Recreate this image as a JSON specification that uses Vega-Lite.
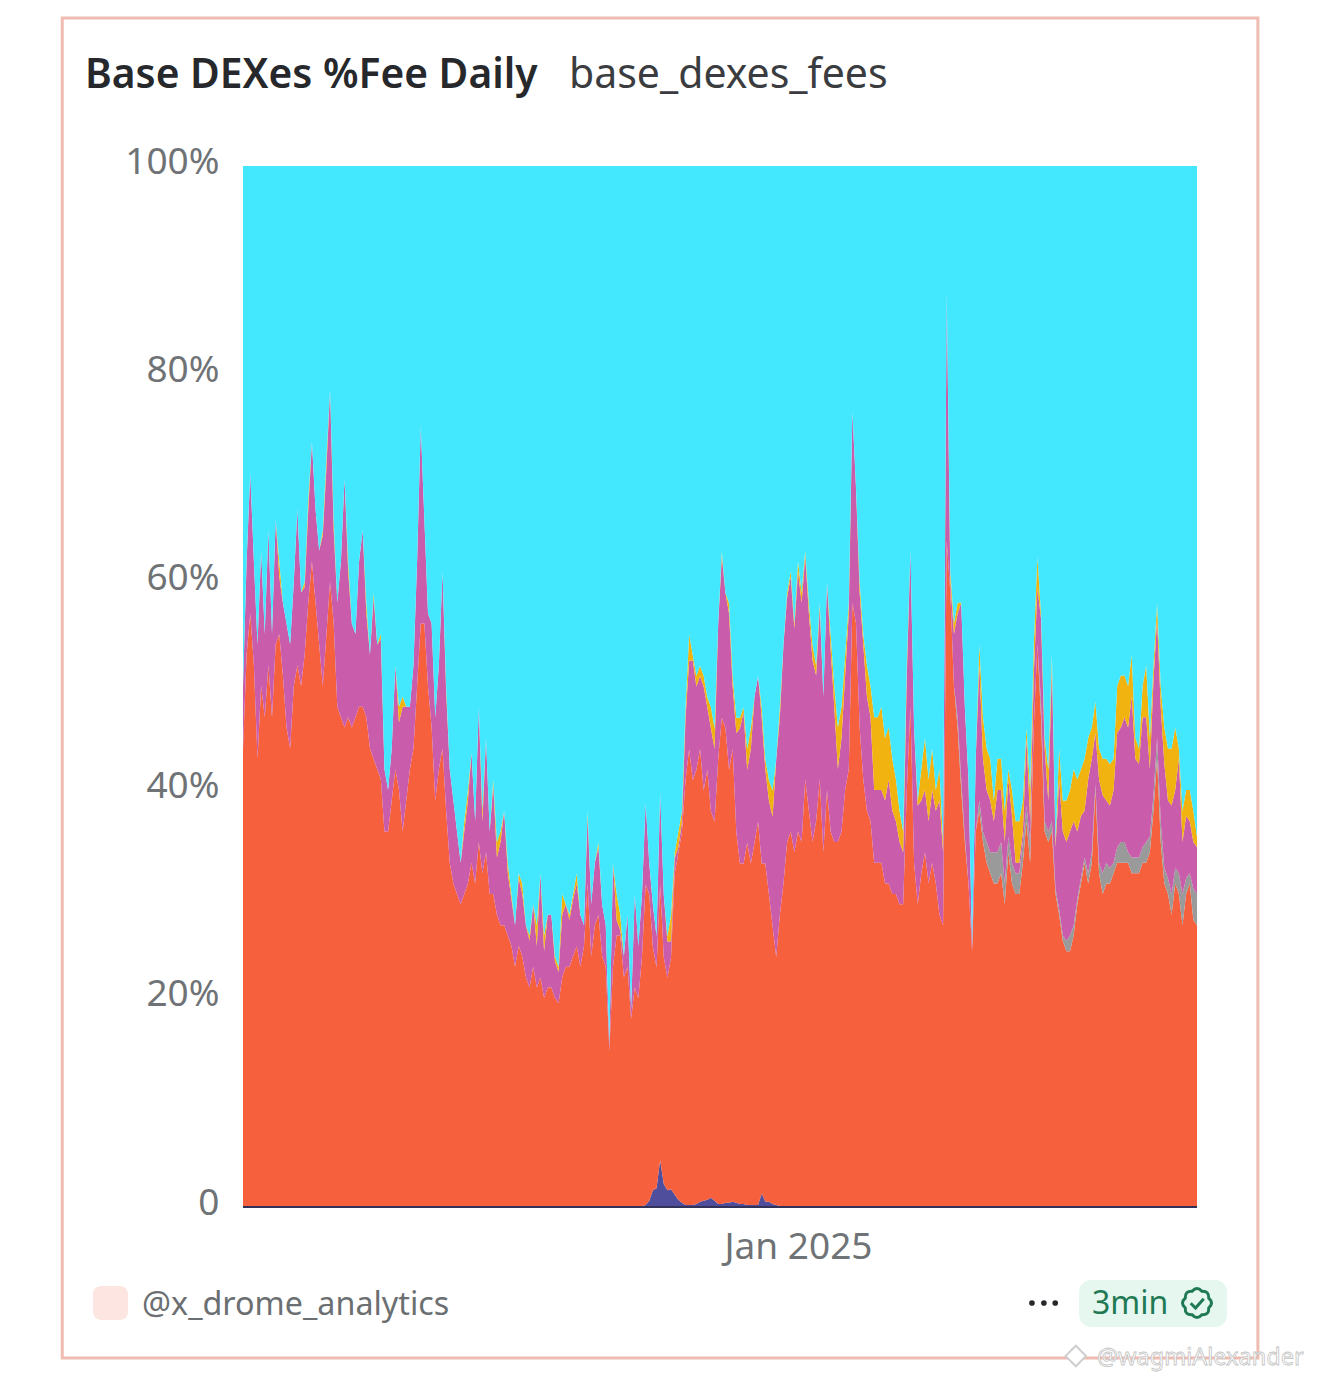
{
"$schema":"https://vega.github.io/schema/vega-lite/v6.json",
"width":954,"height":1041,"autosize":"none",
"padding":{"left":243,"top":166,"right":123,"bottom":177},
"background":"#ffffff",
"config":{"view":{"stroke":null},"font":"Noto Sans"},
"layer":[
{"data":{"values":[{"x":"2024-06-12T04:00","x2":"2025-05-07T19:00","y":1.1422,"y2":-0.1451}]},
"mark":{"type":"rect","filled":false,"stroke":"#efbcb1","strokeWidth":3},
"encoding":{"x":{"field":"x","type":"temporal","scale":{"domain":["2024-08-01","2025-04-21"]},
"axis":{"values":[{"year":2025,"month":"jan","date":1}],"format":"%b %Y","title":null,"grid":false,"ticks":false,"domain":false,"labelFontSize":37,"labelColor":"#6f7375","labelPadding":22,"labelFont":"Noto Sans"}},
"x2":{"field":"x2"},
"y":{"field":"y","type":"quantitative","scale":{"domain":[0,1],"nice":false},
"axis":{"values":[0,0.2,0.4,0.6,0.8,1],"labelExpr":"datum.value==0?'0':format(datum.value,'.0%')","title":null,"grid":false,"ticks":false,"domain":false,"labelFontSize":37,"labelColor":"#6f7375","labelPadding":24,"labelOffset":-4,"labelFont":"Noto Sans"}},
"y2":{"field":"y2"}}},
{"data":{"name":"fees","values":[
{"d":"2024-08-01","s1":0.1,"s2":44,"s3":0,"s4":6,"s5":0,"s6":50},
{"d":"2024-08-02","s1":0.1,"s2":53,"s3":0,"s4":9,"s5":0,"s6":38},
{"d":"2024-08-03","s1":0.1,"s2":57,"s3":0,"s4":13.5,"s5":0,"s6":29.5},
{"d":"2024-08-04","s1":0.1,"s2":52,"s3":0,"s4":10,"s5":0,"s6":38},
{"d":"2024-08-05","s1":0.1,"s2":43,"s3":0,"s4":11,"s5":0,"s6":46},
{"d":"2024-08-06","s1":0.1,"s2":50,"s3":0,"s4":13,"s5":0,"s6":37},
{"d":"2024-08-07","s1":0.1,"s2":47,"s3":0,"s4":8,"s5":0,"s6":45},
{"d":"2024-08-08","s1":0.1,"s2":52,"s3":0,"s4":13,"s5":0,"s6":35},
{"d":"2024-08-09","s1":0.1,"s2":47,"s3":0,"s4":8,"s5":0,"s6":45},
{"d":"2024-08-10","s1":0.1,"s2":54,"s3":0,"s4":12,"s5":0,"s6":34},
{"d":"2024-08-11","s1":0.1,"s2":55,"s3":0,"s4":5.5,"s5":1.5,"s6":38},
{"d":"2024-08-12","s1":0.1,"s2":51,"s3":0,"s4":7,"s5":0,"s6":42},
{"d":"2024-08-13","s1":0.1,"s2":46,"s3":0,"s4":10,"s5":0,"s6":44},
{"d":"2024-08-14","s1":0.1,"s2":44,"s3":0,"s4":10,"s5":0,"s6":46},
{"d":"2024-08-15","s1":0.1,"s2":50,"s3":0,"s4":10,"s5":0,"s6":40},
{"d":"2024-08-16","s1":0.1,"s2":52,"s3":0,"s4":15,"s5":0,"s6":33},
{"d":"2024-08-17","s1":0.1,"s2":50,"s3":0,"s4":9,"s5":0,"s6":41},
{"d":"2024-08-18","s1":0.1,"s2":53,"s3":0,"s4":6.5,"s5":0.5,"s6":40},
{"d":"2024-08-19","s1":0.1,"s2":58,"s3":0,"s4":9,"s5":1,"s6":32},
{"d":"2024-08-20","s1":0.1,"s2":62,"s3":0,"s4":11.5,"s5":0,"s6":26.5},
{"d":"2024-08-21","s1":0.1,"s2":58,"s3":0,"s4":9,"s5":0,"s6":33},
{"d":"2024-08-22","s1":0.1,"s2":54,"s3":0,"s4":9,"s5":0,"s6":37},
{"d":"2024-08-23","s1":0.1,"s2":50,"s3":0,"s4":14.5,"s5":0.5,"s6":35},
{"d":"2024-08-24","s1":0.1,"s2":55,"s3":0,"s4":16,"s5":1,"s6":28},
{"d":"2024-08-25","s1":0.1,"s2":60,"s3":0,"s4":18.5,"s5":0,"s6":21.5},
{"d":"2024-08-26","s1":0.1,"s2":56,"s3":0,"s4":9,"s5":1,"s6":34},
{"d":"2024-08-27","s1":0.1,"s2":48,"s3":0,"s4":10,"s5":0,"s6":42},
{"d":"2024-08-28","s1":0.1,"s2":47,"s3":0,"s4":15,"s5":0,"s6":38},
{"d":"2024-08-29","s1":0.1,"s2":46,"s3":0,"s4":24,"s5":0,"s6":30},
{"d":"2024-08-30","s1":0.1,"s2":47,"s3":0,"s4":14,"s5":1,"s6":38},
{"d":"2024-08-31","s1":0.1,"s2":46,"s3":0,"s4":10,"s5":0,"s6":44},
{"d":"2024-09-01","s1":0.1,"s2":47,"s3":0,"s4":8,"s5":0,"s6":45},
{"d":"2024-09-02","s1":0.1,"s2":48,"s3":0,"s4":14,"s5":0,"s6":38},
{"d":"2024-09-03","s1":0.1,"s2":48,"s3":0,"s4":17,"s5":0,"s6":35},
{"d":"2024-09-04","s1":0.1,"s2":47,"s3":0,"s4":10,"s5":1,"s6":42},
{"d":"2024-09-05","s1":0.1,"s2":44,"s3":0,"s4":9,"s5":0,"s6":47},
{"d":"2024-09-06","s1":0.1,"s2":43,"s3":0,"s4":15.5,"s5":0.5,"s6":41},
{"d":"2024-09-07","s1":0.1,"s2":42,"s3":0,"s4":12,"s5":0,"s6":46},
{"d":"2024-09-08","s1":0.1,"s2":41,"s3":0,"s4":13.5,"s5":0.5,"s6":45},
{"d":"2024-09-09","s1":0.1,"s2":36,"s3":0,"s4":6,"s5":0,"s6":58},
{"d":"2024-09-10","s1":0.1,"s2":36,"s3":0,"s4":4,"s5":0,"s6":60},
{"d":"2024-09-11","s1":0.1,"s2":39,"s3":0,"s4":5,"s5":0,"s6":56},
{"d":"2024-09-12","s1":0.1,"s2":42,"s3":0,"s4":10,"s5":0,"s6":48},
{"d":"2024-09-13","s1":0.1,"s2":40,"s3":0,"s4":6.5,"s5":1.5,"s6":52},
{"d":"2024-09-14","s1":0.1,"s2":36,"s3":0,"s4":12,"s5":1,"s6":51},
{"d":"2024-09-15","s1":0.1,"s2":39,"s3":0,"s4":9,"s5":0,"s6":52},
{"d":"2024-09-16","s1":0.1,"s2":42,"s3":0,"s4":6,"s5":0,"s6":52},
{"d":"2024-09-17","s1":0.1,"s2":44,"s3":0,"s4":8,"s5":0,"s6":48},
{"d":"2024-09-18","s1":0.1,"s2":50,"s3":0,"s4":12,"s5":0,"s6":38},
{"d":"2024-09-19","s1":0.1,"s2":56,"s3":0,"s4":19,"s5":0,"s6":25},
{"d":"2024-09-20","s1":0.1,"s2":56,"s3":0,"s4":10,"s5":0,"s6":34},
{"d":"2024-09-21","s1":0.1,"s2":50,"s3":0,"s4":7,"s5":0,"s6":43},
{"d":"2024-09-22","s1":0.1,"s2":46,"s3":0,"s4":10,"s5":0,"s6":44},
{"d":"2024-09-23","s1":0.1,"s2":39,"s3":0,"s4":8,"s5":0,"s6":53},
{"d":"2024-09-24","s1":0.1,"s2":42,"s3":0,"s4":10,"s5":0,"s6":48},
{"d":"2024-09-25","s1":0.1,"s2":44,"s3":0,"s4":17,"s5":0,"s6":39},
{"d":"2024-09-26","s1":0.1,"s2":38,"s3":0,"s4":11.5,"s5":0.5,"s6":50},
{"d":"2024-09-27","s1":0.1,"s2":33,"s3":0,"s4":9,"s5":0,"s6":58},
{"d":"2024-09-28","s1":0.1,"s2":31,"s3":0,"s4":8,"s5":0,"s6":61},
{"d":"2024-09-29","s1":0.1,"s2":30,"s3":0,"s4":6,"s5":0,"s6":64},
{"d":"2024-09-30","s1":0.1,"s2":29,"s3":0,"s4":4,"s5":0,"s6":67},
{"d":"2024-10-01","s1":0.1,"s2":30,"s3":0,"s4":6,"s5":1,"s6":63},
{"d":"2024-10-02","s1":0.1,"s2":31,"s3":0,"s4":8,"s5":1,"s6":60},
{"d":"2024-10-03","s1":0.1,"s2":33,"s3":0,"s4":10.6,"s5":0,"s6":56.4},
{"d":"2024-10-04","s1":0.1,"s2":31,"s3":0,"s4":6,"s5":0,"s6":63},
{"d":"2024-10-05","s1":0.1,"s2":35,"s3":0,"s4":13,"s5":0,"s6":52},
{"d":"2024-10-06","s1":0.1,"s2":32,"s3":0,"s4":5,"s5":1,"s6":62},
{"d":"2024-10-07","s1":0.1,"s2":34,"s3":0,"s4":11,"s5":0,"s6":55},
{"d":"2024-10-08","s1":0.1,"s2":30,"s3":0,"s4":6,"s5":0,"s6":64},
{"d":"2024-10-09","s1":0.1,"s2":30,"s3":0,"s4":10.5,"s5":0.5,"s6":59},
{"d":"2024-10-10","s1":0.1,"s2":28,"s3":0,"s4":5.5,"s5":1.5,"s6":65},
{"d":"2024-10-11","s1":0.1,"s2":27,"s3":0,"s4":8,"s5":1,"s6":64},
{"d":"2024-10-12","s1":0.1,"s2":27,"s3":0,"s4":11,"s5":0,"s6":62},
{"d":"2024-10-13","s1":0.1,"s2":26,"s3":0,"s4":6,"s5":1,"s6":67},
{"d":"2024-10-14","s1":0.1,"s2":25,"s3":0,"s4":4.5,"s5":0.5,"s6":70},
{"d":"2024-10-15","s1":0.1,"s2":23,"s3":0,"s4":4,"s5":0,"s6":73},
{"d":"2024-10-16","s1":0.1,"s2":25,"s3":0,"s4":6.5,"s5":0.5,"s6":68},
{"d":"2024-10-17","s1":0.1,"s2":24,"s3":0,"s4":6,"s5":1,"s6":69},
{"d":"2024-10-18","s1":0.1,"s2":22,"s3":0,"s4":5,"s5":0,"s6":73},
{"d":"2024-10-19","s1":0.1,"s2":21,"s3":0,"s4":4.5,"s5":0.5,"s6":74},
{"d":"2024-10-20","s1":0.1,"s2":23,"s3":0,"s4":6,"s5":0,"s6":71},
{"d":"2024-10-21","s1":0.1,"s2":21,"s3":0,"s4":4,"s5":2,"s6":73},
{"d":"2024-10-22","s1":0.1,"s2":22,"s3":0,"s4":10,"s5":0,"s6":68},
{"d":"2024-10-23","s1":0.1,"s2":20,"s3":0,"s4":4.5,"s5":1.5,"s6":74},
{"d":"2024-10-24","s1":0.1,"s2":21,"s3":0,"s4":7,"s5":0,"s6":72},
{"d":"2024-10-25","s1":0.1,"s2":21,"s3":0,"s4":7,"s5":0,"s6":72},
{"d":"2024-10-26","s1":0.1,"s2":20,"s3":0,"s4":3.5,"s5":0.5,"s6":76},
{"d":"2024-10-27","s1":0.1,"s2":19.5,"s3":0,"s4":3,"s5":0.5,"s6":77},
{"d":"2024-10-28","s1":0.1,"s2":22,"s3":0,"s4":6,"s5":2,"s6":70},
{"d":"2024-10-29","s1":0.1,"s2":23,"s3":0,"s4":6,"s5":0,"s6":71},
{"d":"2024-10-30","s1":0.1,"s2":23,"s3":0,"s4":4.5,"s5":0.5,"s6":72},
{"d":"2024-10-31","s1":0.1,"s2":24,"s3":0,"s4":5.5,"s5":0.5,"s6":70},
{"d":"2024-11-01","s1":0.1,"s2":25,"s3":0,"s4":6,"s5":1,"s6":68},
{"d":"2024-11-02","s1":0.1,"s2":23,"s3":0,"s4":5,"s5":0,"s6":72},
{"d":"2024-11-03","s1":0.1,"s2":25,"s3":0,"s4":2,"s5":0,"s6":73},
{"d":"2024-11-04","s1":0.1,"s2":31,"s3":0,"s4":6.5,"s5":0.5,"s6":62},
{"d":"2024-11-05","s1":0.1,"s2":24,"s3":0,"s4":5,"s5":0,"s6":71},
{"d":"2024-11-06","s1":0.1,"s2":27,"s3":0,"s4":6,"s5":0,"s6":67},
{"d":"2024-11-07","s1":0.1,"s2":28,"s3":0,"s4":6.5,"s5":0.5,"s6":65},
{"d":"2024-11-08","s1":0.1,"s2":24,"s3":0,"s4":5,"s5":0,"s6":71},
{"d":"2024-11-09","s1":0.1,"s2":23,"s3":0,"s4":4,"s5":0,"s6":73},
{"d":"2024-11-10","s1":0.1,"s2":15,"s3":0,"s4":0.5,"s5":0,"s6":84.5},
{"d":"2024-11-11","s1":0.1,"s2":23,"s3":0,"s4":10,"s5":0,"s6":67},
{"d":"2024-11-12","s1":0.1,"s2":26,"s3":0,"s4":1.5,"s5":2.5,"s6":70},
{"d":"2024-11-13","s1":0.1,"s2":26,"s3":0,"s4":0.5,"s5":1.5,"s6":72},
{"d":"2024-11-14","s1":0.1,"s2":22,"s3":0,"s4":2,"s5":0,"s6":76},
{"d":"2024-11-15","s1":0.1,"s2":23,"s3":0,"s4":5,"s5":0,"s6":72},
{"d":"2024-11-16","s1":0.1,"s2":18,"s3":0,"s4":1,"s5":0,"s6":81},
{"d":"2024-11-17","s1":0.1,"s2":21,"s3":0,"s4":9,"s5":0,"s6":70},
{"d":"2024-11-18","s1":0.1,"s2":20,"s3":0,"s4":5,"s5":0,"s6":75},
{"d":"2024-11-19","s1":0.1,"s2":24,"s3":0,"s4":6,"s5":0,"s6":70},
{"d":"2024-11-20","s1":0.2,"s2":30.8,"s3":0,"s4":7.8,"s5":0,"s6":61.2},
{"d":"2024-11-21","s1":0.6,"s2":29.4,"s3":0,"s4":3,"s5":0,"s6":67},
{"d":"2024-11-22","s1":1.6,"s2":23.4,"s3":0,"s4":4,"s5":0,"s6":71},
{"d":"2024-11-23","s1":1.8,"s2":21.2,"s3":0,"s4":3,"s5":0,"s6":74},
{"d":"2024-11-24","s1":4.5,"s2":26.5,"s3":0,"s4":8.8,"s5":0,"s6":60.2},
{"d":"2024-11-25","s1":2.2,"s2":21.8,"s3":0,"s4":6,"s5":0,"s6":70},
{"d":"2024-11-26","s1":1.6,"s2":20.4,"s3":0,"s4":3.5,"s5":0.5,"s6":74},
{"d":"2024-11-27","s1":1.7,"s2":22.3,"s3":0,"s4":1.5,"s5":2.5,"s6":72},
{"d":"2024-11-28","s1":1.2,"s2":30.8,"s3":0,"s4":1.5,"s5":0.5,"s6":66},
{"d":"2024-11-29","s1":0.7,"s2":33.3,"s3":0,"s4":0.5,"s5":1.5,"s6":64},
{"d":"2024-11-30","s1":0.4,"s2":35.6,"s3":0,"s4":1,"s5":1,"s6":62},
{"d":"2024-12-01","s1":0.2,"s2":40.8,"s3":0,"s4":6,"s5":1,"s6":52},
{"d":"2024-12-02","s1":0.2,"s2":43.8,"s3":0,"s4":8.5,"s5":2.5,"s6":45},
{"d":"2024-12-03","s1":0.2,"s2":40.8,"s3":0,"s4":11.5,"s5":0.5,"s6":47},
{"d":"2024-12-04","s1":0.3,"s2":41.7,"s3":0,"s4":8,"s5":1,"s6":49},
{"d":"2024-12-05","s1":0.5,"s2":43.5,"s3":0,"s4":7,"s5":1,"s6":48},
{"d":"2024-12-06","s1":0.6,"s2":39.4,"s3":0,"s4":10,"s5":1,"s6":49},
{"d":"2024-12-07","s1":0.7,"s2":41.3,"s3":0,"s4":6,"s5":1,"s6":51},
{"d":"2024-12-08","s1":0.9,"s2":37.1,"s3":0,"s4":8,"s5":2,"s6":52},
{"d":"2024-12-09","s1":0.6,"s2":36.4,"s3":0,"s4":7,"s5":2,"s6":54},
{"d":"2024-12-10","s1":0.3,"s2":42.7,"s3":0,"s4":13,"s5":0,"s6":44},
{"d":"2024-12-11","s1":0.3,"s2":46.7,"s3":0,"s4":15.5,"s5":0.5,"s6":37},
{"d":"2024-12-12","s1":0.4,"s2":45.6,"s3":0,"s4":13,"s5":0,"s6":41},
{"d":"2024-12-13","s1":0.4,"s2":41.6,"s3":0,"s4":15,"s5":1,"s6":42},
{"d":"2024-12-14","s1":0.5,"s2":43.5,"s3":0,"s4":6,"s5":1,"s6":49},
{"d":"2024-12-15","s1":0.4,"s2":35.6,"s3":0,"s4":9.5,"s5":1.5,"s6":53},
{"d":"2024-12-16","s1":0.3,"s2":32.7,"s3":0,"s4":13,"s5":1,"s6":53},
{"d":"2024-12-17","s1":0.3,"s2":32.7,"s3":0,"s4":14.5,"s5":0.5,"s6":52},
{"d":"2024-12-18","s1":0.2,"s2":34.8,"s3":0,"s4":7,"s5":2,"s6":56},
{"d":"2024-12-19","s1":0.2,"s2":32.8,"s3":0,"s4":11,"s5":2,"s6":54},
{"d":"2024-12-20","s1":0.2,"s2":34.8,"s3":0,"s4":14,"s5":0,"s6":51},
{"d":"2024-12-21","s1":0.2,"s2":36.8,"s3":0,"s4":14,"s5":0,"s6":49},
{"d":"2024-12-22","s1":1.3,"s2":31.7,"s3":0,"s4":14,"s5":1,"s6":52},
{"d":"2024-12-23","s1":0.5,"s2":32.5,"s3":0,"s4":9,"s5":1,"s6":57},
{"d":"2024-12-24","s1":0.5,"s2":29.5,"s3":0,"s4":9,"s5":2,"s6":59},
{"d":"2024-12-25","s1":0.3,"s2":26.7,"s3":0,"s4":10.5,"s5":2.5,"s6":60},
{"d":"2024-12-26","s1":0.2,"s2":23.8,"s3":0,"s4":19,"s5":0,"s6":57},
{"d":"2024-12-27","s1":0.1,"s2":28,"s3":0,"s4":19,"s5":1,"s6":52},
{"d":"2024-12-28","s1":0.1,"s2":31,"s3":0,"s4":23,"s5":0,"s6":46},
{"d":"2024-12-29","s1":0.1,"s2":35,"s3":0,"s4":23.5,"s5":0.5,"s6":41},
{"d":"2024-12-30","s1":0.1,"s2":36,"s3":0,"s4":24.5,"s5":0.5,"s6":39},
{"d":"2024-12-31","s1":0.1,"s2":34,"s3":0,"s4":21.5,"s5":0.5,"s6":44},
{"d":"2025-01-01","s1":0.1,"s2":36,"s3":0,"s4":25,"s5":1,"s6":38},
{"d":"2025-01-02","s1":0.1,"s2":35,"s3":0,"s4":23,"s5":1,"s6":41},
{"d":"2025-01-03","s1":0.1,"s2":41,"s3":0,"s4":21.5,"s5":0.5,"s6":37},
{"d":"2025-01-04","s1":0.1,"s2":38,"s3":0,"s4":19,"s5":1,"s6":42},
{"d":"2025-01-05","s1":0.1,"s2":35,"s3":0,"s4":17.5,"s5":1.5,"s6":46},
{"d":"2025-01-06","s1":0.1,"s2":37,"s3":0,"s4":14,"s5":1,"s6":48},
{"d":"2025-01-07","s1":0.1,"s2":41,"s3":0,"s4":16.5,"s5":0.5,"s6":42},
{"d":"2025-01-08","s1":0.1,"s2":34,"s3":0,"s4":15,"s5":0,"s6":51},
{"d":"2025-01-09","s1":0.1,"s2":40,"s3":0,"s4":20,"s5":0,"s6":40},
{"d":"2025-01-10","s1":0.1,"s2":36,"s3":0,"s4":17.5,"s5":1.5,"s6":45},
{"d":"2025-01-11","s1":0.1,"s2":35,"s3":0,"s4":13,"s5":2,"s6":50},
{"d":"2025-01-12","s1":0.1,"s2":35,"s3":0,"s4":7,"s5":4,"s6":54},
{"d":"2025-01-13","s1":0.1,"s2":36,"s3":0,"s4":9,"s5":3,"s6":52},
{"d":"2025-01-14","s1":0.1,"s2":40,"s3":0,"s4":11,"s5":2,"s6":47},
{"d":"2025-01-15","s1":0.1,"s2":42,"s3":0,"s4":15,"s5":1,"s6":42},
{"d":"2025-01-16","s1":0.1,"s2":58,"s3":0,"s4":18.5,"s5":0,"s6":23.5},
{"d":"2025-01-17","s1":0.1,"s2":56,"s3":0,"s4":13,"s5":0,"s6":31},
{"d":"2025-01-18","s1":0.1,"s2":46,"s3":0,"s4":13,"s5":1,"s6":40},
{"d":"2025-01-19","s1":0.1,"s2":41,"s3":0,"s4":13,"s5":1,"s6":45},
{"d":"2025-01-20","s1":0.1,"s2":38,"s3":0,"s4":11,"s5":3,"s6":48},
{"d":"2025-01-21","s1":0.1,"s2":37,"s3":0,"s4":10,"s5":3,"s6":50},
{"d":"2025-01-22","s1":0.1,"s2":33,"s3":0,"s4":7,"s5":7,"s6":53},
{"d":"2025-01-23","s1":0.1,"s2":33,"s3":0,"s4":7,"s5":7,"s6":53},
{"d":"2025-01-24","s1":0.1,"s2":33,"s3":0,"s4":7,"s5":8,"s6":52},
{"d":"2025-01-25","s1":0.1,"s2":31,"s3":0,"s4":8,"s5":6,"s6":55},
{"d":"2025-01-26","s1":0.1,"s2":31,"s3":0,"s4":10,"s5":5,"s6":54},
{"d":"2025-01-27","s1":0.1,"s2":30,"s3":0,"s4":8,"s5":5,"s6":57},
{"d":"2025-01-28","s1":0.1,"s2":30,"s3":0,"s4":7,"s5":4,"s6":59},
{"d":"2025-01-29","s1":0.1,"s2":29,"s3":0,"s4":6,"s5":3,"s6":62},
{"d":"2025-01-30","s1":0.1,"s2":29,"s3":0,"s4":5,"s5":2,"s6":64},
{"d":"2025-01-31","s1":0.1,"s2":40,"s3":0,"s4":11,"s5":1,"s6":48},
{"d":"2025-02-01","s1":0.1,"s2":48,"s3":0,"s4":15,"s5":0,"s6":37},
{"d":"2025-02-02","s1":0.1,"s2":33,"s3":0,"s4":13,"s5":0,"s6":54},
{"d":"2025-02-03","s1":0.1,"s2":29,"s3":0,"s4":9.5,"s5":0.5,"s6":61},
{"d":"2025-02-04","s1":0.1,"s2":32,"s3":0,"s4":7,"s5":3,"s6":58},
{"d":"2025-02-05","s1":0.1,"s2":34,"s3":0,"s4":6,"s5":5,"s6":55},
{"d":"2025-02-06","s1":0.1,"s2":31,"s3":0,"s4":6,"s5":4,"s6":59},
{"d":"2025-02-07","s1":0.1,"s2":33,"s3":0,"s4":7,"s5":4,"s6":56},
{"d":"2025-02-08","s1":0.1,"s2":31,"s3":0,"s4":7,"s5":2,"s6":60},
{"d":"2025-02-09","s1":0.1,"s2":28,"s3":0,"s4":11,"s5":3,"s6":58},
{"d":"2025-02-10","s1":0.1,"s2":27,"s3":0,"s4":7,"s5":1,"s6":65},
{"d":"2025-02-11","s1":0.1,"s2":64,"s3":0,"s4":24,"s5":0,"s6":12},
{"d":"2025-02-12","s1":0.1,"s2":59,"s3":0,"s4":1,"s5":1,"s6":39},
{"d":"2025-02-13","s1":0.1,"s2":50,"s3":0,"s4":5,"s5":1,"s6":44},
{"d":"2025-02-14","s1":0.1,"s2":46,"s3":1,"s4":10,"s5":1,"s6":42},
{"d":"2025-02-15","s1":0.1,"s2":40,"s3":1,"s4":17,"s5":0,"s6":42},
{"d":"2025-02-16","s1":0.1,"s2":35,"s3":0.5,"s4":12.5,"s5":0,"s6":52},
{"d":"2025-02-17","s1":0.1,"s2":31,"s3":0,"s4":10,"s5":0,"s6":59},
{"d":"2025-02-18","s1":0.1,"s2":24.5,"s3":0,"s4":0.5,"s5":0,"s6":75},
{"d":"2025-02-19","s1":0.1,"s2":36,"s3":0,"s4":7,"s5":0,"s6":57},
{"d":"2025-02-20","s1":0.1,"s2":38,"s3":1,"s4":13,"s5":2,"s6":46},
{"d":"2025-02-21","s1":0.1,"s2":35,"s3":1,"s4":7,"s5":4,"s6":53},
{"d":"2025-02-22","s1":0.1,"s2":33,"s3":2,"s4":5,"s5":4,"s6":56},
{"d":"2025-02-23","s1":0.1,"s2":32,"s3":2,"s4":5,"s5":4,"s6":57},
{"d":"2025-02-24","s1":0.1,"s2":31,"s3":3,"s4":3,"s5":2,"s6":61},
{"d":"2025-02-25","s1":0.1,"s2":31,"s3":3,"s4":6,"s5":3,"s6":57},
{"d":"2025-02-26","s1":0.1,"s2":32,"s3":3,"s4":5,"s5":3,"s6":57},
{"d":"2025-02-27","s1":0.1,"s2":29,"s3":2,"s4":4,"s5":3,"s6":62},
{"d":"2025-02-28","s1":0.1,"s2":34,"s3":1.5,"s4":5.5,"s5":1,"s6":58},
{"d":"2025-03-01","s1":0.1,"s2":31,"s3":2,"s4":4.5,"s5":2.5,"s6":60},
{"d":"2025-03-02","s1":0.1,"s2":30,"s3":2,"s4":1,"s5":4,"s6":63},
{"d":"2025-03-03","s1":0.1,"s2":30,"s3":2,"s4":1,"s5":4,"s6":63},
{"d":"2025-03-04","s1":0.1,"s2":33,"s3":2,"s4":1,"s5":3,"s6":61},
{"d":"2025-03-05","s1":0.1,"s2":37,"s3":1.5,"s4":6.5,"s5":1,"s6":54},
{"d":"2025-03-06","s1":0.1,"s2":33,"s3":2,"s4":2,"s5":3,"s6":60},
{"d":"2025-03-07","s1":0.1,"s2":46,"s3":0,"s4":5,"s5":3,"s6":46},
{"d":"2025-03-08","s1":0.1,"s2":54,"s3":0,"s4":5.4,"s5":3,"s6":37.6},
{"d":"2025-03-09","s1":0.1,"s2":47,"s3":1.5,"s4":8,"s5":0.5,"s6":43},
{"d":"2025-03-10","s1":0.1,"s2":36,"s3":1,"s4":7,"s5":1,"s6":55},
{"d":"2025-03-11","s1":0.1,"s2":35,"s3":1,"s4":3,"s5":3,"s6":58},
{"d":"2025-03-12","s1":0.1,"s2":36,"s3":1,"s4":15,"s5":1,"s6":47},
{"d":"2025-03-13","s1":0.1,"s2":30,"s3":0.5,"s4":4,"s5":0.5,"s6":65},
{"d":"2025-03-14","s1":0.1,"s2":28,"s3":0.5,"s4":12.5,"s5":3,"s6":56},
{"d":"2025-03-15","s1":0.1,"s2":25.5,"s3":0.5,"s4":10,"s5":3,"s6":61},
{"d":"2025-03-16","s1":0.1,"s2":24.5,"s3":1,"s4":9.5,"s5":4,"s6":61},
{"d":"2025-03-17","s1":0.1,"s2":24.5,"s3":1.5,"s4":10,"s5":4,"s6":60},
{"d":"2025-03-18","s1":0.1,"s2":26,"s3":1,"s4":10,"s5":5,"s6":58},
{"d":"2025-03-19","s1":0.1,"s2":29,"s3":0.5,"s4":6.5,"s5":5,"s6":59},
{"d":"2025-03-20","s1":0.1,"s2":31,"s3":0.5,"s4":6,"s5":4.5,"s6":58},
{"d":"2025-03-21","s1":0.1,"s2":33,"s3":0.5,"s4":4.5,"s5":5,"s6":57},
{"d":"2025-03-22","s1":0.1,"s2":31,"s3":1,"s4":9,"s5":4,"s6":55},
{"d":"2025-03-23","s1":0.1,"s2":33,"s3":1,"s4":9,"s5":3,"s6":54},
{"d":"2025-03-24","s1":0.1,"s2":40,"s3":0.5,"s4":5,"s5":3,"s6":51.5},
{"d":"2025-03-25","s1":0.1,"s2":32,"s3":1,"s4":8,"s5":3,"s6":56},
{"d":"2025-03-26","s1":0.1,"s2":30,"s3":2,"s4":7.5,"s5":3.5,"s6":57},
{"d":"2025-03-27","s1":0.1,"s2":31,"s3":2,"s4":6,"s5":4,"s6":57},
{"d":"2025-03-28","s1":0.1,"s2":31,"s3":1.5,"s4":6,"s5":4,"s6":57.5},
{"d":"2025-03-29","s1":0.1,"s2":32,"s3":1,"s4":7,"s5":3,"s6":57},
{"d":"2025-03-30","s1":0.1,"s2":33,"s3":1.5,"s4":11,"s5":4.5,"s6":50},
{"d":"2025-03-31","s1":0.1,"s2":33,"s3":2,"s4":11,"s5":5,"s6":49},
{"d":"2025-04-01","s1":0.1,"s2":33,"s3":2,"s4":12,"s5":4,"s6":49},
{"d":"2025-04-02","s1":0.1,"s2":33,"s3":1,"s4":12,"s5":4,"s6":50},
{"d":"2025-04-03","s1":0.1,"s2":32,"s3":1.5,"s4":15.5,"s5":4,"s6":47},
{"d":"2025-04-04","s1":0.1,"s2":32,"s3":1.5,"s4":9.5,"s5":2,"s6":55},
{"d":"2025-04-05","s1":0.1,"s2":32,"s3":1.5,"s4":9,"s5":1.5,"s6":56},
{"d":"2025-04-06","s1":0.1,"s2":33,"s3":1.5,"s4":12.5,"s5":3,"s6":50},
{"d":"2025-04-07","s1":0.1,"s2":33,"s3":2,"s4":12,"s5":5,"s6":48},
{"d":"2025-04-08","s1":0.1,"s2":34,"s3":1.5,"s4":6.5,"s5":3,"s6":55},
{"d":"2025-04-09","s1":0.1,"s2":38,"s3":1.5,"s4":11,"s5":1.5,"s6":48},
{"d":"2025-04-10","s1":0.1,"s2":43,"s3":2,"s4":11.5,"s5":1.5,"s6":42},
{"d":"2025-04-11","s1":0.1,"s2":35,"s3":2,"s4":11,"s5":2,"s6":50},
{"d":"2025-04-12","s1":0.1,"s2":31,"s3":1.5,"s4":10,"s5":3.5,"s6":54},
{"d":"2025-04-13","s1":0.1,"s2":30,"s3":1.5,"s4":7.5,"s5":5,"s6":56},
{"d":"2025-04-14","s1":0.1,"s2":28,"s3":2,"s4":8.5,"s5":5.5,"s6":56},
{"d":"2025-04-15","s1":0.1,"s2":31,"s3":1.5,"s4":7.5,"s5":6,"s6":54},
{"d":"2025-04-16","s1":0.1,"s2":30,"s3":2,"s4":11,"s5":1,"s6":56},
{"d":"2025-04-17","s1":0.1,"s2":27,"s3":3,"s4":5,"s5":3,"s6":62},
{"d":"2025-04-18","s1":0.1,"s2":30,"s3":1.5,"s4":6,"s5":2.5,"s6":60},
{"d":"2025-04-19","s1":0.1,"s2":31,"s3":1,"s4":5,"s5":3,"s6":60},
{"d":"2025-04-20","s1":0.1,"s2":27.5,"s3":3,"s4":4.5,"s5":3,"s6":62},
{"d":"2025-04-21","s1":0.1,"s2":27,"s3":3,"s4":4.5,"s5":1,"s6":64.5}
]},
"transform":[{"fold":["s1","s2","s3","s4","s5","s6"],"as":["series","share"]}],
"mark":{"type":"area","interpolate":"linear"},
"encoding":{"x":{"field":"d","type":"temporal"},
"y":{"field":"share","type":"quantitative","stack":"normalize"},
"order":{"field":"series","sort":"ascending"},
"color":{"field":"series","type":"nominal","legend":null,
"scale":{"domain":["s1","s2","s3","s4","s5","s6"],"range":["#4f4e9c","#f6603d","#9a9a9a","#c95cab","#f0b30f","#43e8ff"]}}}},
{"data":{"values":[{"x":"2024-08-01","x2":"2025-04-21","y":0}]},
"mark":{"type":"rule","stroke":"#33335a","strokeWidth":2},
"encoding":{"x":{"field":"x","type":"temporal"},"x2":{"field":"x2"},"y":{"field":"y","type":"quantitative"}}},
{"data":{"values":[{"x":"2024-06-18T10:30","y":1.0865,"label":"Base DEXes %Fee Daily"}]},
"mark":{"type":"text","align":"left","baseline":"middle","fontSize":40.7,"fontWeight":600,"color":"#26282b"},
"encoding":{"x":{"field":"x","type":"temporal"},"y":{"field":"y","type":"quantitative"},"text":{"field":"label"}}},
{"data":{"values":[{"x":"2024-10-29T21:00","y":1.0865,"label":"base_dexes_fees"}]},
"mark":{"type":"text","align":"left","baseline":"middle","fontSize":41,"color":"#3a3c40"},
"encoding":{"x":{"field":"x","type":"temporal"},"y":{"field":"y","type":"quantitative"},"text":{"field":"label"}}},
{"data":{"values":[{"x":"2024-06-20T15:30","x2":"2024-06-30T07:00","y":-0.0759,"y2":-0.1085}]},
"mark":{"type":"rect","fill":"#fde6e1","cornerRadius":8},
"encoding":{"x":{"field":"x","type":"temporal"},"x2":{"field":"x2"},"y":{"field":"y","type":"quantitative"},"y2":{"field":"y2"}}},
{"data":{"values":[{"x":"2024-07-04T04:00","y":-0.0946,"label":"@x_drome_analytics"}]},
"mark":{"type":"text","align":"left","baseline":"middle","fontSize":32.3,"color":"#6b6f72"},
"encoding":{"x":{"field":"x","type":"temporal"},"y":{"field":"y","type":"quantitative"},"text":{"field":"label"}}},
{"data":{"values":[{"x":"2025-03-06T12:00","y":-0.0922},{"x":"2025-03-09T19:00","y":-0.0922},{"x":"2025-03-12T22:00","y":-0.0922}]},
"mark":{"type":"point","filled":true,"size":32,"color":"#26282b","opacity":1},
"encoding":{"x":{"field":"x","type":"temporal"},"y":{"field":"y","type":"quantitative"}}},
{"data":{"values":[{"x":"2025-03-19T12:00","x2":"2025-04-29T07:00","y":-0.0701,"y2":-0.1153}]},
"mark":{"type":"rect","fill":"#e6f7ef","cornerRadius":12},
"encoding":{"x":{"field":"x","type":"temporal"},"x2":{"field":"x2"},"y":{"field":"y","type":"quantitative"},"y2":{"field":"y2"}}},
{"data":{"values":[{"x":"2025-03-23T01:00","y":-0.0936,"label":"3min"}]},
"mark":{"type":"text","align":"left","baseline":"middle","fontSize":32,"color":"#1f7a54"},
"encoding":{"x":{"field":"x","type":"temporal"},"y":{"field":"y","type":"quantitative"},"text":{"field":"label"}}},
{"data":{"values":[{"x":"2025-04-21","y":-0.0922}]},
"mark":{"type":"point","filled":false,"size":900,"stroke":"#1f7a54","strokeWidth":3,"opacity":1,"shape":"M.785 -.325Q1.15 0 .785 .325Q.81 .81 .325 .785Q0 1.15 -.325 .785Q-.81 .81 -.785 .325Q-1.15 0 -.785 -.325Q-.81 -.81 -.325 -.785Q0 -1.15 .325 -.785Q.81 -.81 .785 -.325ZM-.42 .02L-.1 .34L.45 -.28"},
"encoding":{"x":{"field":"x","type":"temporal"},"y":{"field":"y","type":"quantitative"}}},
{"data":{"values":[{"x":"2025-03-18T14:00","y":-0.1431}]},
"mark":{"type":"point","shape":"diamond","filled":true,"fill":"#ffffff","size":420,"stroke":"#cfcfcf","strokeWidth":2,"opacity":1},
"encoding":{"x":{"field":"x","type":"temporal"},"y":{"field":"y","type":"quantitative"}}},
{"data":{"values":[{"x":"2025-03-24T10:00","y":-0.1455,"label":"@wagmiAlexander"}]},
"mark":{"type":"text","align":"left","baseline":"middle","fontSize":23.5,"color":"#ffffff","stroke":"#c4c4c4","strokeWidth":0.8},
"encoding":{"x":{"field":"x","type":"temporal"},"y":{"field":"y","type":"quantitative"},"text":{"field":"label"}}}
]}
